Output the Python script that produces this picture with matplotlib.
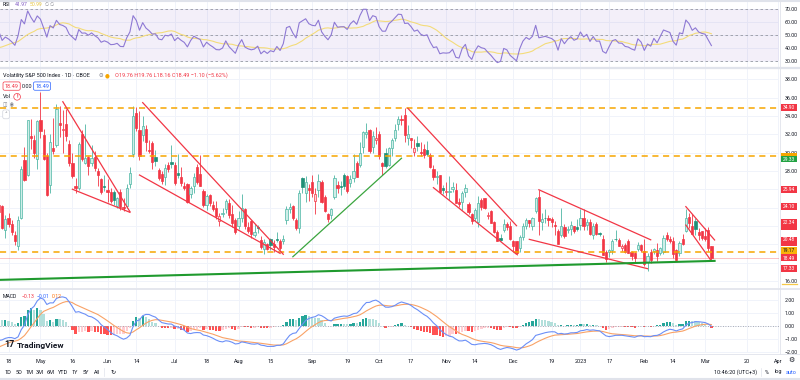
import matplotlib

matplotlib.use("Agg")

import matplotlib.pyplot as plt
import numpy as np
import pandas as pd
from matplotlib.patches import Rectangle

plt.rcParams["font.family"] = ["Roboto", "DejaVu Sans"]

# ---- data (VIX daily, Apr 2022 - Mar 2023) ----
HOLIDAYS = ["2022-02-21", "2022-04-15", "2022-05-30", "2022-06-20", "2022-07-04",
            "2022-09-05", "2022-11-24", "2022-12-26", "2023-01-02", "2023-01-16",
            "2023-02-20"]

# closes before the visible window (only feed the RSI / MACD warm-up)
warmup_close = [
    21.96, 22.09, 24.35, 23.22, 22.86, 21.44, 19.96, 23.91, 27.36, 28.33,
    25.70, 24.29, 28.11, 27.75, 28.81, 31.02, 30.32, 27.59, 30.15,
    33.32, 29.74, 30.48, 31.98, 36.45, 35.13, 32.45, 30.23, 30.75, 31.77,
    29.83, 26.67, 25.67, 23.87, 23.53, 22.94, 23.57, 21.67, 20.81, 19.63,
    18.90, 19.33, 20.56,
    19.63, 18.57, 21.03, 22.10, 21.55, 21.16, 24.37,
]

# visible bars, 2022-04-12 .. 2023-03-03
opens = [
    23.5, 24.2, 21.6, 22.9, 22.2, 21.0, 19.8, 22.9, 29.2, 27.6, 31.8, 31.4, 29.3,
    33.6, 31.9, 29.6, 26.5, 30.5, 30.8, 33.2, 32.5, 33.1, 30.9, 28.9, 26.4, 26.1, 32.0, 28.9, 29.5, 28.9, 29.5, 28.0, 27.1, 26.4,
    25.9, 25.7, 25.7, 24.2, 25.7, 24.1, 24.2, 26.6, 29.8, 34.3, 32.5, 31.9, 32.6, 30.3, 31.0, 29.5, 28.1, 27.7, 27.3, 28.6, 29.0,
    28.6, 27.8, 27.3, 26.3, 26.6, 25.5, 26.3, 28.4, 27.7, 25.8, 24.3, 25.4, 24.3, 24.0, 22.5, 23.3, 23.8, 24.5, 23.3, 22.6,
    22.0, 22.9, 23.8, 21.9, 22.5, 21.0, 21.8, 20.5, 19.5, 20.0, 20.6, 20.0, 20.5, 20.4, 20.3, 22.6, 23.8, 24.2, 22.6, 21.8, 27.2, 25.6, 26.1,
    26.8, 24.7, 25.9, 26.8, 25.2, 23.3, 23.2, 25.2, 26.5, 26.3, 27.5, 27.4, 26.7, 27.2, 28.9, 28.6, 30.6, 32.0, 32.5, 30.6, 31.4,
    32.0, 28.9, 30.0, 28.6, 30.5, 31.6, 33.1, 33.6, 34.1, 31.6, 31.6, 30.1, 31.0, 30.0, 30.4, 30.3, 29.7, 28.2, 27.3, 27.5, 26.1,
    25.7, 25.7, 26.0, 25.9, 24.6, 24.6, 25.7, 24.4, 23.3, 22.9, 22.4, 24.8, 25.0, 23.1, 23.6, 22.4, 21.3, 20.7, 21.5, 22.2, 22.0,
    20.4, 20.3, 19.6, 20.8, 22.0, 22.6, 22.0, 23.6, 25.2, 22.4, 22.9, 22.9, 22.7, 22.0, 21.4, 21.0, 21.9, 21.5, 21.7, 22.0, 21.9,
    22.1, 22.9, 22.1, 22.4, 21.0, 22.2, 21.2, 20.6, 19.1, 19.2, 19.4, 20.6, 20.5, 19.6, 19.9, 20.4, 19.2, 19.0, 19.5, 19.9,
    19.3, 18.1, 19.2, 19.3, 19.4, 19.0, 19.2, 21.0, 20.6, 20.4, 19.4, 19.0, 20.6, 21.4, 23.0, 22.0, 22.5, 21.3, 21.4,
    20.9, 21.6, 19.76,
]
highs = [
    25.0, 24.3, 23.2, 23.4, 22.6, 21.4, 23.1, 28.5, 30.6, 33.6, 33.7, 31.9, 33.6,
    36.6, 32.6, 30.0, 32.0, 33.8, 35.3, 35.1, 34.7, 34.8, 31.4, 29.9, 27.2, 31.2, 32.5, 33.1, 29.6, 30.8, 30.2, 28.3, 27.2, 27.5,
    27.1, 26.1, 25.9, 25.2, 26.0, 25.0, 26.6, 28.4, 35.1, 35.0, 34.5, 34.0, 33.0, 31.4, 31.3, 30.3, 28.3, 28.0, 28.7, 29.0, 30.8,
    29.0, 29.8, 28.4, 26.8, 26.7, 26.4, 27.8, 28.8, 29.7, 26.0, 25.5, 25.5, 24.7, 24.7, 23.4, 24.0, 24.9, 24.9, 24.3, 22.9,
    23.6, 25.5, 23.9, 22.4, 22.6, 22.2, 22.1, 20.9, 20.6, 20.1, 20.7, 20.5, 21.3, 20.6, 21.0, 24.2, 24.5, 24.3, 22.9, 25.9, 27.3, 27.4, 26.6,
    27.6, 26.1, 27.7, 27.0, 25.4, 23.4, 23.9, 27.5, 26.9, 26.9, 27.8, 27.5, 27.5, 29.8, 29.1, 31.1, 32.3, 33.2, 32.6, 32.3, 32.8,
    32.4, 29.0, 30.5, 30.6, 31.6, 33.1, 34.0, 34.1, 34.9, 33.0, 31.6, 31.5, 31.8, 31.1, 30.9, 31.3, 29.9, 28.6, 28.0, 27.6, 26.5,
    26.8, 27.4, 26.8, 26.7, 25.0, 25.8, 26.6, 24.6, 23.4, 24.0, 25.3, 25.0, 25.0, 23.5, 23.7, 22.5, 21.5, 21.1, 22.7, 22.4, 22.5,
    20.5, 20.3, 21.0, 22.3, 22.9, 22.6, 23.0, 25.2, 25.9, 23.4, 23.8, 23.2, 23.0, 22.5, 21.7, 24.0, 22.2, 22.0, 22.5, 22.0, 22.8,
    23.8, 23.8, 22.8, 22.8, 22.3, 22.4, 21.3, 21.0, 19.4, 19.5, 20.6, 21.6, 20.7, 20.0, 20.1, 20.6, 19.3, 19.2, 20.2, 20.0,
    20.6, 19.0, 19.5, 19.6, 20.1, 19.7, 21.0, 21.3, 20.9, 20.8, 19.5, 20.4, 21.1, 23.8, 23.4, 23.3, 22.9, 21.8, 21.4,
    21.8, 21.9, 19.76,
]
lows = [
    22.6, 21.7, 20.7, 21.9, 21.0, 19.9, 19.4, 22.7, 26.9, 27.4, 30.4, 29.4, 28.2,
    31.6, 29.2, 25.3, 25.6, 29.8, 30.6, 31.7, 30.0, 31.3, 28.5, 27.2, 25.6, 25.9, 29.1, 28.8, 27.5, 28.5, 28.0, 26.4, 25.5, 25.8,
    24.6, 24.5, 24.3, 23.9, 23.7, 23.6, 23.9, 26.1, 29.5, 32.3, 29.2, 31.3, 30.2, 29.9, 28.2, 28.5, 27.0, 26.6, 26.5, 27.9, 28.3,
    26.5, 27.2, 26.3, 25.9, 24.5, 25.0, 25.6, 26.6, 26.4, 24.1, 23.7, 24.2, 23.6, 22.8, 22.0, 23.0, 23.4, 22.9, 21.9, 21.1,
    21.7, 22.4, 21.7, 21.2, 20.7, 20.8, 21.2, 19.5, 18.9, 19.4, 19.4, 19.1, 20.2, 19.4, 20.0, 22.2, 23.4, 22.6, 21.5, 21.2, 25.6, 24.6, 24.7,
    25.2, 23.3, 25.1, 24.5, 23.5, 22.4, 22.7, 24.9, 25.6, 25.4, 26.0, 25.6, 26.2, 26.8, 27.3, 28.4, 30.0, 31.6, 30.0, 29.9, 30.9,
    29.3, 27.5, 28.3, 28.5, 29.6, 31.3, 32.5, 33.0, 31.2, 30.8, 30.5, 29.6, 30.2, 29.6, 29.4, 29.6, 28.3, 27.0, 26.6, 25.6, 25.5,
    25.3, 24.8, 25.7, 24.5, 24.1, 23.7, 25.2, 23.3, 22.2, 22.5, 21.9, 23.7, 23.8, 22.8, 22.3, 21.2, 20.3, 20.4, 21.3, 21.5, 20.5,
    19.3, 18.8, 19.2, 20.5, 21.7, 21.9, 21.6, 23.4, 21.0, 21.5, 22.3, 22.0, 21.9, 21.0, 20.0, 20.8, 20.7, 21.2, 21.0, 21.2, 21.4,
    21.6, 21.6, 21.6, 21.0, 20.6, 21.0, 20.9, 18.8, 18.1, 18.6, 18.9, 20.3, 19.8, 19.3, 19.0, 19.0, 18.3, 18.1, 19.3, 19.2,
    17.6, 17.1, 17.9, 18.9, 18.2, 18.8, 18.9, 20.4, 20.1, 18.5, 18.2, 18.7, 19.9, 21.3, 21.8, 21.1, 21.0, 20.5, 20.5,
    20.4, 19.3, 18.16,
]
closes = [
    24.26, 21.82, 22.70, 22.17, 21.37, 20.32, 22.68, 28.21, 27.02, 33.52, 31.60, 29.99, 33.40,
    32.34, 29.25, 25.42, 31.20, 30.19, 34.75, 32.99, 32.56, 31.77, 28.87, 27.47, 26.10, 30.96, 29.35, 29.43, 28.48, 29.45, 28.37, 27.50, 25.72, 26.19,
    25.69, 24.72, 24.79, 25.07, 24.02, 23.96, 26.09, 27.75, 34.02, 32.69, 29.62, 32.95, 31.13, 30.19, 28.95, 29.05, 27.23, 26.95, 28.36, 28.16, 28.71,
    26.70, 27.54, 26.73, 26.08, 24.64, 26.17, 27.29, 26.82, 26.40, 24.23, 25.30, 24.50, 23.88, 23.11, 23.03, 23.36, 24.69, 23.24, 22.33, 21.33,
    22.84, 23.93, 21.95, 21.44, 21.15, 21.29, 21.77, 19.74, 20.20, 19.53, 19.95, 19.69, 20.47, 19.56, 20.60, 23.80, 24.11, 22.82, 21.78, 25.56, 26.21, 26.83, 25.87,
    25.56, 25.47, 26.91, 24.64, 23.61, 22.79, 23.87, 27.27, 26.16, 26.27, 26.30, 25.76, 27.16, 27.99, 27.35, 29.92, 32.26, 32.27, 30.18, 31.84, 31.62,
    29.59, 28.55, 28.55, 30.52, 31.36, 32.45, 33.63, 33.57, 31.94, 32.02, 31.37, 30.50, 30.76, 29.98, 29.69, 29.85, 28.46, 27.28, 27.39, 25.75, 25.88,
    25.81, 25.86, 26.27, 24.55, 24.35, 25.54, 26.09, 23.53, 22.52, 23.73, 24.54, 24.11, 23.93, 23.12, 22.36, 21.34, 20.35, 20.50, 22.21, 21.89, 20.58,
    19.84, 19.06, 20.75, 22.01, 22.68, 22.29, 22.83, 25.00, 22.55, 22.70, 22.83, 22.62, 22.42, 21.97, 20.07, 21.97, 20.87, 21.65, 22.14, 21.44, 21.67,
    22.90, 22.01, 22.46, 21.13, 21.97, 21.07, 21.09, 18.83, 18.35, 19.36, 20.34, 20.52, 19.85, 19.81, 19.20, 19.08, 18.73, 18.51, 19.94, 19.40,
    17.87, 18.73, 18.33, 19.43, 18.66, 19.63, 20.71, 20.53, 20.34, 18.91, 18.23, 20.17, 20.02, 22.87, 22.29, 21.14, 21.67, 20.95, 20.70,
    20.58, 19.59, 18.49,
]

tick_dates = ["2022-04-18", "2022-05-02", "2022-05-16", "2022-06-01", "2022-06-14",
              "2022-07-01", "2022-07-18", "2022-08-01", "2022-08-15", "2022-09-01",
              "2022-09-19", "2022-10-03", "2022-10-17", "2022-11-01", "2022-11-14",
              "2022-12-01", "2022-12-19", "2023-01-03", "2023-01-17", "2023-02-01",
              "2023-02-14", "2023-03-01", "2023-03-20", "2023-04-03"]
tick_labels = ["18", "May", "16", "Jun", "14", "Jul", "18", "Aug", "15", "Sep", "19",
               "Oct", "17", "Nov", "14", "Dec", "19", "2023", "17", "Feb", "14", "Mar",
               "20", "Apr"]

# horizontal levels (dashed orange) and hand-drawn trend lines: (date, price) pairs
level_prices = [34.90, 29.60, 19.17]
red_lines = [
    (("2022-05-11", 35.55), ("2022-06-10", 23.55)),
    (("2022-05-16", 26.00), ("2022-06-10", 23.48)),
    (("2022-06-16", 35.45), ("2022-08-19", 18.90)),
    (("2022-06-15", 27.55), ("2022-08-18", 19.00)),
    (("2022-10-14", 34.83), ("2022-12-02", 22.02)),
    (("2022-10-26", 26.17), ("2022-12-02", 18.90)),
    (("2022-12-13", 25.94), ("2023-02-03", 20.48)),
    (("2022-12-08", 20.53), ("2023-02-02", 17.33)),
    (("2023-02-21", 24.10), ("2023-03-06", 20.46)),
    (("2023-02-21", 22.09), ("2023-03-03", 18.16)),
]
green_lines = [
    (("2022-08-24", 18.63), ("2022-10-12", 29.38)),
]
support_line = (("2022-04-12", 16.10), ("2023-03-03", 18.18))

# price-scale label boxes: (position, text, face colour, text colour)
price_boxes = [
    (34.90, "34.90", "#f23645", "white"),
    (29.28, "29.33", "#22a243", "white"),
    (25.94, "25.94", "#f23645", "white"),
    (24.10, "24.10", "#f23645", "white"),
    (22.34, "22.34", "#f23645", "white"),
    (20.48, "20.48", "#f23645", "white"),
    (19.32, "19.17", "#f9b208", "#131722"),
    (18.49, "18.49", "#f23645", "white"),
    (17.33, "17.33", "#f23645", "white"),
]
# boxes mostly hidden behind the ones above: (position, colour)
hidden_boxes = [(29.62, "#f7a600"), (21.92, "#f23645"), (20.15, "#f23645"),
                (18.90, "#f23645")]
price_tick_labels = [38, 36, 34, 32, 30, 28, 16]

# ---- calendar -> bar positions ----
days = pd.bdate_range("2022-02-01", "2023-04-06", freq="C", holidays=HOLIDAYS)
day_pos = {d: i for i, d in enumerate(days)}
origin = day_pos[pd.Timestamp("2022-04-18")]


def pos(date):
    return day_pos[pd.Timestamp(date)] - origin


n_warm = len(warmup_close)
x = np.arange(len(closes)) - (origin - n_warm)
o, h, l, c = (np.asarray(v, dtype=float) for v in (opens, highs, lows, closes))
all_close = pd.Series(warmup_close + closes)

# indicators: RSI(14) with SMA(14), MACD(12, 26, 9)
delta = all_close.diff()
gain = delta.clip(lower=0).ewm(alpha=1 / 14, adjust=False).mean()
loss = (-delta.clip(upper=0)).ewm(alpha=1 / 14, adjust=False).mean()
rsi = 100 - 100 / (1 + gain / loss)
rsi_ma = rsi.rolling(14).mean()
macd = all_close.ewm(span=12, adjust=False).mean() - all_close.ewm(span=26, adjust=False).mean()
signal = macd.ewm(span=9, adjust=False).mean()
hist = macd - signal
x_all = np.arange(len(all_close)) - origin

# ---- figure in pixel coordinates ----
W, H = 800, 380
fig = plt.figure(figsize=(8, 3.8), dpi=100)
fig.patch.set_facecolor("white")


def px_axes(x0, y0, x1, y1):
    return fig.add_axes([x0 / W, 1 - y1 / H, (x1 - x0) / W, (y1 - y0) / H])


X_SCALE, X_OFF = 3.195, 8.5
xlim = (-X_OFF / X_SCALE, (779 - X_OFF) / X_SCALE)
TEXT = "#131722"
GRID = "#f0f3fa"
FS = 4.0
tick_pos = [pos(d) for d in tick_dates]

ax_rsi = px_axes(0, 0, 779, 67)
ax = px_axes(0, 69, 779, 288)
ax_macd = px_axes(0, 289, 779, 353)

for a in (ax_rsi, ax, ax_macd):
    a.set_xlim(*xlim)
    for s in a.spines.values():
        s.set_visible(False)
    a.set_xticks(tick_pos)
    a.tick_params(axis="x", length=0, labelbottom=False)
    a.tick_params(axis="y", length=0, labelsize=3.8, labelcolor=TEXT, pad=4,
                  left=False, labelleft=False, right=False, labelright=True)
    a.grid(True, color=GRID, linewidth=0.7)
    a.set_axisbelow(True)

# ---- RSI pane ----
ax_rsi.set_ylim(25.4, 76.9)
ax_rsi.set_yticks([30, 40, 50, 60, 70])
ax_rsi.set_yticklabels([f"{v:.2f}" for v in [30, 40, 50, 60, 70]])
ax_rsi.axhspan(30, 70, color="#7e57c2", alpha=0.09, linewidth=0)
for lv in (30, 50, 70):
    ax_rsi.axhline(lv, color="#9598a1", linewidth=0.6, linestyle=(0, (3, 3)))
vis = x_all >= -4
ax_rsi.plot(x_all[vis], rsi_ma[vis], color="#f4dc7a", linewidth=0.8)
ax_rsi.plot(x_all[vis], rsi[vis], color="#8e79d4", linewidth=0.8)
rh = dict(transform=ax_rsi.transAxes, va="center", fontsize=3.7)
ax_rsi.text(0.004, 0.93, "RSI", color=TEXT, **rh)
ax_rsi.text(0.019, 0.93, "41.97", color="#7e57c2", **rh)
ax_rsi.text(0.038, 0.93, "50.99", color="#e7c43c", **rh)
ax_rsi.text(0.058, 0.93, "\u2205 \u2205", color="#787b86", **{**rh, "fontsize": 3.3})

# ---- price pane ----
ax.set_ylim(15.22, 39.12)
ax.set_yticks(np.arange(16, 40, 2))
ax.set_yticklabels([f"{v:.2f}" if v in price_tick_labels else "" for v in np.arange(16, 40, 2)])

prev = np.concatenate([[warmup_close[-1]], c[:-1]])
rising = c >= prev
hollow = c >= o
up_edge, dn_col = "#4db6a4", "#f23645"
for xi, oi, hi, li, ci, r, hol in zip(x, o, h, l, c, rising, hollow):
    col = up_edge if r else dn_col
    ax.vlines(xi, li, hi, color=col, linewidth=0.6, zorder=2)
    lo_b, hi_b = min(oi, ci), max(oi, ci)
    height = max(hi_b - lo_b, 0.08)
    if hol:
        face = "#cfeee8" if r else "#fcd6d9"
        edge = col
    else:
        face = "#1e8f77" if r else dn_col
        edge = face
    ax.bar(xi, height, bottom=lo_b, width=0.7, color=face, edgecolor=edge,
           linewidth=0.5, zorder=3)

for lv in level_prices:
    ax.axhline(lv, color="#f7a600", linewidth=1.1, linestyle=(0, (4, 3)), zorder=4)
ax.axhline(closes[-1], color="#f23645", alpha=0.3, linewidth=0.7, zorder=1)

for (d0, p0), (d1, p1) in red_lines:
    ax.plot([pos(d0), pos(d1)], [p0, p1], color="#f23645", linewidth=0.9, zorder=5)
for (d0, p0), (d1, p1) in green_lines:
    ax.plot([pos(d0), pos(d1)], [p0, p1], color="#3aa53f", linewidth=0.9, zorder=5)
(d0, p0), (d1, p1) = support_line
ax.plot([pos(d0) - 0.5, pos(d1) + 1], [p0, p1], color="#1f9a2e", linewidth=1.5, zorder=5)

box_w = 16 / 779
box_h = 6.6 / 9.16
for price, face in hidden_boxes:
    ax.add_patch(Rectangle((1.0028, price - box_h / 2), box_w, box_h, facecolor=face,
                           edgecolor="none", transform=ax.get_yaxis_transform(),
                           clip_on=False, zorder=9))
for price, label, face, tcol in price_boxes:
    ax.add_patch(Rectangle((1.0028, price - box_h / 2), box_w, box_h, facecolor=face,
                           edgecolor="none", transform=ax.get_yaxis_transform(),
                           clip_on=False, zorder=10))
    ax.text(1.0028 + box_w / 2, price, label, transform=ax.get_yaxis_transform(),
            fontsize=3.5, color=tcol, va="center", ha="center", clip_on=False, zorder=11)

# legend / header of the price pane
hdr = dict(transform=ax.transAxes, va="center", fontsize=FS, clip_on=False)
ax.text(0.004, 0.97, "Volatility S&P 500 Index \u00b7 1D \u00b7 CBOE", color=TEXT, **hdr)
ax.text(0.126, 0.97, "\u2296", color="#787b86", **{**hdr, "fontsize": 4})
ax.text(0.134, 0.97, "\u25cf", color="#f7a600", **{**hdr, "fontsize": 4})
ax.text(0.147, 0.97, "O19.76 H19.76 L18.16 C18.49 \u22121.10 (\u22125.62%)", color="#f23645", **hdr)
ax.text(0.006, 0.922, "18.49", color="#f23645",
        bbox=dict(boxstyle="round,pad=0.3", facecolor="white", edgecolor="#f23645", linewidth=0.5), **hdr)
ax.text(0.028, 0.922, "0.00", color=TEXT, **hdr)
ax.text(0.045, 0.922, "18.49", color="#2962ff",
        bbox=dict(boxstyle="round,pad=0.3", facecolor="white", edgecolor="#2962ff", linewidth=0.5), **hdr)
ax.text(0.004, 0.873, "Vol", color=TEXT, **hdr)
ax.text(0.021, 0.873, "!", color="#f23645", fontweight="bold",
        bbox=dict(boxstyle="circle,pad=0.15", facecolor="white", edgecolor="#f23645", linewidth=0.5), **hdr)
ax.text(0.004, 0.835, "\u25eb  \u25c9", color="#787b86", **{**hdr, "fontsize": 3.4})
ax.text(0.006, 0.793, "\u02c4", color="#787b86",
        bbox=dict(boxstyle="round,pad=0.35", facecolor="white", edgecolor="#d1d4dc", linewidth=0.5), **hdr)

# ---- MACD pane ----
ax_macd.set_ylim(-2.09, 2.87)
ax_macd.set_yticks([-2, -1, 0, 1, 2])
ax_macd.set_yticklabels(["\u22122.00", "\u22121.00", "0.00", "1.00", "2.00"])
hv = hist.to_numpy()
hprev = np.concatenate([[0], hv[:-1]])
hcol = np.where(hv >= 0, np.where(hv > hprev, "#26a69a", "#b2dfdb"),
                np.where(hv < hprev, "#ff5252", "#ffcdd2"))
ax_macd.bar(x_all[vis], hv[vis], width=0.72, color=hcol[vis], linewidth=0)
ax_macd.axhline(0, color="#9598a1", linewidth=0.6, linestyle=(0, (1, 2)))
ax_macd.plot(x_all[vis], signal[vis], color="#f9a266", linewidth=0.8)
ax_macd.plot(x_all[vis], macd[vis], color="#6b8ff7", linewidth=0.8)
mh = dict(transform=ax_macd.transAxes, va="center", fontsize=3.7)
ax_macd.text(0.004, 0.88, "MACD", color=TEXT, **mh)
ax_macd.text(0.028, 0.88, "\u22120.13", color="#f23645", **mh)
ax_macd.text(0.047, 0.88, "\u22120.01", color="#2962ff", **mh)
ax_macd.text(0.066, 0.88, "0.12", color="#ff6d00", **mh)
ax_macd.text(0.005, 0.06, "17", color=TEXT, fontsize=6.5, fontweight="bold",
             transform=ax_macd.transAxes, va="bottom")
ax_macd.text(0.022, 0.06, "TradingView", color=TEXT, fontsize=6, fontweight="bold",
             transform=ax_macd.transAxes, va="bottom")

# date labels under the MACD pane
ax_macd.tick_params(axis="x", labelbottom=True, labelsize=FS, labelcolor=TEXT, pad=4.2)
ax_macd.set_xticklabels(tick_labels)

# ---- chrome: separators, toolbar ----
line_kw = dict(color="#e0e3eb", transform=fig.transFigure, clip_on=False)
fig.add_artist(plt.Line2D([0, 1], [1 - 0.6 / H, 1 - 0.6 / H], linewidth=1.5, **line_kw))
fig.add_artist(plt.Line2D([0, 1], [1 - 68 / H, 1 - 68 / H], linewidth=1.6, **line_kw))
fig.add_artist(plt.Line2D([0, 1], [1 - 288.5 / H, 1 - 288.5 / H], linewidth=1.2, **line_kw))
fig.add_artist(plt.Line2D([0, 1], [1 - 353.5 / H, 1 - 353.5 / H], linewidth=0.6, **line_kw))
fig.add_artist(plt.Line2D([779.5 / W, 779.5 / W], [1 - 353.5 / H, 1], linewidth=0.6, **line_kw))
fig.add_artist(plt.Line2D([0, 1], [1 - 378.5 / H, 1 - 378.5 / H], linewidth=1.5, **line_kw))
fig.add_artist(plt.Line2D([782 / W, 797 / W], [1 - 284 / H, 1 - 284 / H], linewidth=0.9,
                          color="#f7c948", transform=fig.transFigure))

for lbl, xp in zip(["1D", "5D", "1M", "3M", "6M", "YTD", "1Y", "5Y", "All"],
                   [8, 19, 30, 40, 51, 63, 75, 86, 97]):
    fig.text(xp / W, 1 - 372 / H, lbl, fontsize=FS, color=TEXT, ha="center", va="center")
fig.add_artist(plt.Line2D([104 / W, 104 / W], [1 - 376 / H, 1 - 368 / H], linewidth=0.5, **line_kw))
fig.text(113 / W, 1 - 372 / H, "\u21bb", fontsize=4.5, color=TEXT, ha="center", va="center")
fig.text(736 / W, 1 - 372 / H, "10:46:20 (UTC+3)", fontsize=FS, color=TEXT, ha="center", va="center")
fig.add_artist(plt.Line2D([761 / W, 761 / W], [1 - 376 / H, 1 - 368 / H], linewidth=0.5, **line_kw))
fig.text(767 / W, 1 - 372 / H, "%", fontsize=FS, color=TEXT, ha="center", va="center")
fig.text(778 / W, 1 - 372 / H, "log", fontsize=FS, color=TEXT, ha="center", va="center")
fig.text(791 / W, 1 - 372 / H, "auto", fontsize=FS, color="#2962ff", ha="center", va="center")
fig.text(791 / W, 1 - 360 / H, "\u2699", fontsize=5, color=TEXT, ha="center", va="center")

fig.savefig("out.png", dpi=100)
